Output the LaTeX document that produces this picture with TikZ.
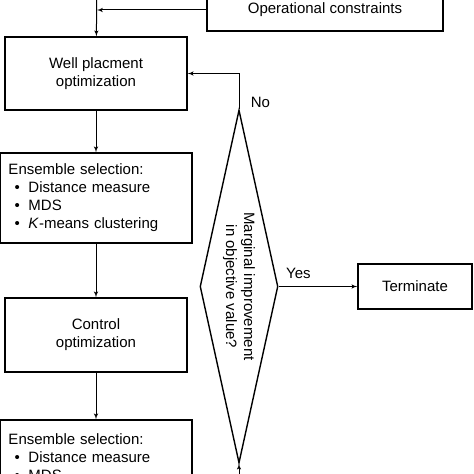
\documentclass[tikz,border=0pt]{standalone}
\usepackage{fontspec}
\setmainfont{Liberation Sans}
\usetikzlibrary{arrows,shapes.geometric}
\tikzstyle{box} = [draw, line width=1.4pt, rectangle, align=center, inner sep=0pt]
\tikzstyle{listbox} = [box, align=left, text width=175pt,
    minimum width=192pt, minimum height=90pt]
\tikzstyle{decision} = [draw, line width=1.4pt, diamond, inner sep=0pt,
    minimum width=78pt, minimum height=353pt]
\tikzstyle{coord} = [coordinate]
\tikzstyle{link} = [->, line width=1pt]
\newcommand{\bul}[1]{\\\hspace*{6pt}\makebox[14pt][l]{\textbullet}#1}

\begin{document}
\begin{tikzpicture}[x=1pt, y=1pt, >=latex', font=\fontsize{15pt}{18pt}\selectfont]
    \useasboundingbox (0,0) rectangle (474,474);
    \clip (0,0) rectangle (474,474);
    \node [box, minimum width=236pt, minimum height=42pt] (opcons) at (325,464) {Operational constraints};
    \node [coord] (start) at (97,500) {};
    \node [box, minimum width=182pt, minimum height=73pt] (wellopt) at (96,400.5) {Well placment\\optimization};
    \node [listbox, below of=wellopt, node distance=124.5pt] (ens1) {Ensemble selection:\bul{Distance measure}\bul{MDS}\bul{\textit{K}-means clustering}};
    \node [box, below of=ens1, node distance=137pt,
            minimum width=182pt, minimum height=74pt] (ctrlopt) {Control\\optimization};
    \node [listbox, below of=ctrlopt, node distance=133pt, minimum height=96pt] (ens2) {Ensemble selection:\bul{Distance measure}\bul{MDS}\bul{\textit{K}-means clustering}};
    \node [decision] (margin) at (239,187.5) {};
    \node [rotate=-90, align=center] (margtext) at (margin) {Marginal improvement\\in objective value?};
    \node [box, right of=margin, node distance=176pt,
            minimum width=114pt, minimum height=45pt] (stop) {Terminate};
    \node [coord] (loopin) at (239,-20) {};
    \draw [link] (start) -- (wellopt);
    \draw [link] (opcons) -- (opcons -| start);
    \draw [link] (wellopt) -- (ens1);
    \draw [link] (ens1) -- (ctrlopt);
    \draw [link] (ctrlopt) -- (ens2);
    \draw [link] (loopin) -- (margin.south);
    \draw [link] (margin.north) |- node [pos=0.1, right=8pt] {No} (wellopt);
    \draw [link] (margin.east) -- node [pos=0.25, above=4pt] {Yes} (stop);
\end{tikzpicture}
\end{document}
